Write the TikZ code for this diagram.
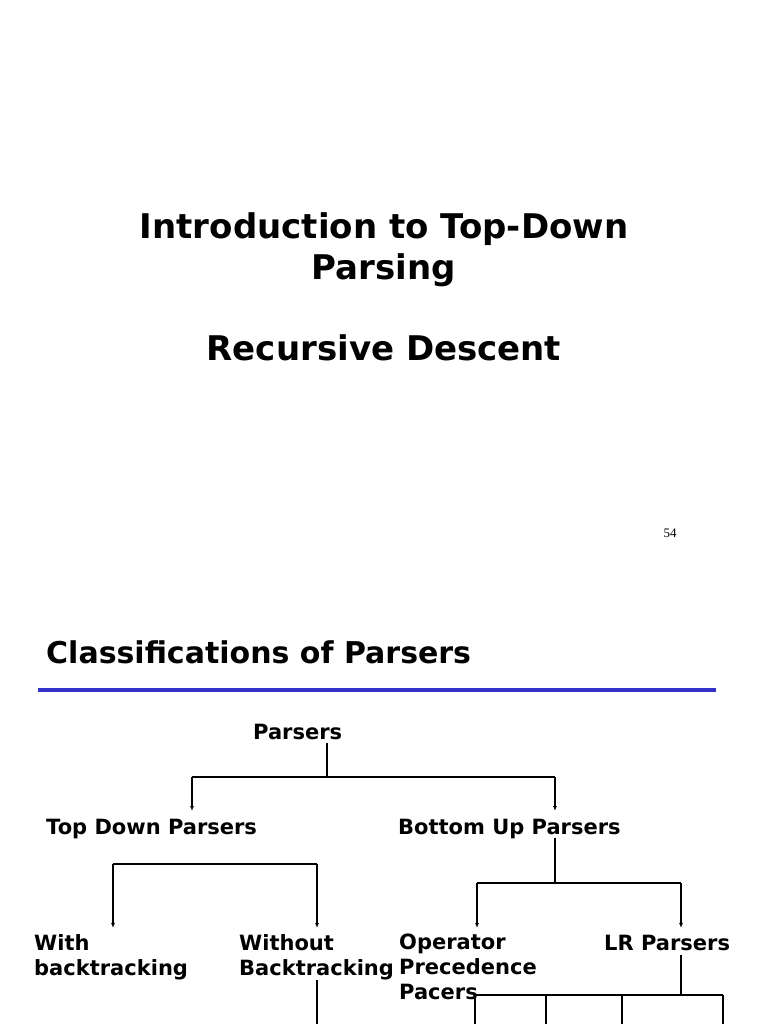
\documentclass[tikz,border=0pt]{standalone}
\usepackage{fontspec}
\usetikzlibrary{arrows.meta}
\setmainfont{DejaVu Sans}
\newfontfamily\serif{Liberation Serif}
\begin{document}
\begin{tikzpicture}[x=1pt,y=-1pt,
  lab/.style={anchor=base west,inner sep=0pt,align=left,font=\bfseries\fontsize{21}{25}\selectfont},
  ttl/.style={anchor=base,inner sep=0pt,font=\bfseries\fontsize{34}{41}\selectfont},
  arr/.style={-{Latex[length=5pt,width=4pt]}},
  thk/.style={line width=2.4pt},
  thn/.style={line width=1.4pt}]
\useasboundingbox (0,0) rectangle (768,1024);
\fill[white] (0,0) rectangle (768,1024);
\node[ttl] (t1) at (384,238) {Introduction to Top-Down};
\node[ttl] (t2) at (384,279) {Parsing};
\node[ttl] (t3) at (384,360) {Recursive Descent};
\node[anchor=base,inner sep=0pt,font=\serif\fontsize{13}{15}\selectfont] (pg) at (670,537) {54};
\node[anchor=base west,inner sep=0pt,font=\bfseries\fontsize{30}{32}\selectfont] (cl) at (46,663) {Classifications of Parsers};
\draw[line width=3.5pt,color={rgb,255:red,51;green,51;blue,204}] (38,690) -- (716,690);
\node[lab] (p) at (253,739) {Parsers};
\node[lab] (td) at (46,834) {Top Down Parsers};
\node[lab] (bu) at (398,834) {Bottom Up Parsers};
\node[lab,anchor=north west] (w) at (34,934) {With\\backtracking};
\node[lab,anchor=north west] (wo) at (239,934) {Without\\Backtracking};
\node[lab,anchor=north west] (op) at (399,934) {Operator\\Precedence\\Pacers};
\node[lab] (lr) at (604,950) {LR Parsers};
\coordinate (a1) at (327,777); \coordinate (a2) at (192,777); \coordinate (a3) at (555,777);
\draw[thn] (327,743) -- (a1);
\draw[thk] (a2) -- (a3);
\draw[thn,arr] (a2) -- (192,811);
\draw[thn,arr] (a3) -- (555,811);
\draw[thk] (555,838) -- (555,883);
\draw[thn] (477,883) -- (681,883);
\draw[thn,arr] (477,883) -- (477,928);
\draw[thn,arr] (681,883) -- (681,928);
\draw[thk] (113,864) -- (317,864);
\draw[thk,arr] (113,864) -- (113,928);
\draw[thn,arr] (317,864) -- (317,928);
\draw[thn] (317,980) -- (317,1024);
\draw[thk] (681,955) -- (681,995);
\draw[thn] (475,995) -- (723,995);
\draw[thn] (475,995) -- (475,1024);
\draw[thk] (546,995) -- (546,1024);
\draw[thn] (622,995) -- (622,1024);
\draw[thn] (723,995) -- (723,1024);
\end{tikzpicture}
\end{document}
